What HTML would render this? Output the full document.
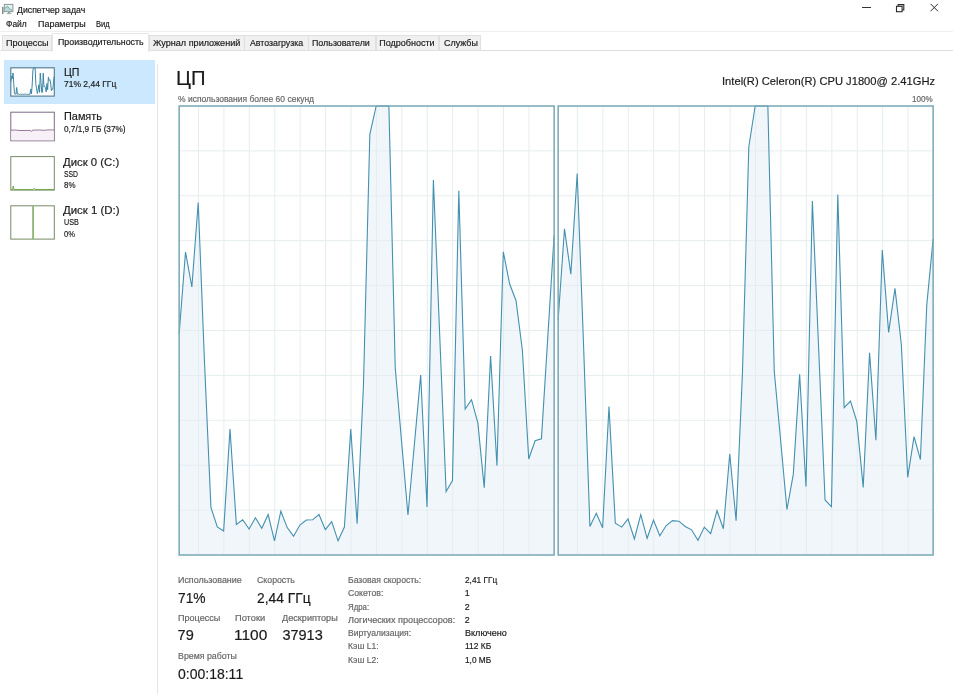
<!DOCTYPE html>
<html><head><meta charset="utf-8">
<style>
html,body{margin:0;padding:0;background:#fff;}
body{width:953px;height:700px;position:relative;overflow:hidden;filter:blur(0.3px);font-family:"Liberation Sans",sans-serif;color:#1a1a1a;}
.t{position:absolute;white-space:nowrap;line-height:1;transform-origin:0 0;-webkit-text-stroke:0.18px currentColor;}
.g{color:#656565;}
.tb{position:absolute;top:35px;height:16px;background:#f0f0f0;border:1px solid #e0e0e0;box-sizing:border-box;}
.box{position:absolute;box-sizing:border-box;}
svg{position:absolute;left:0;top:0;}
</style></head><body>

<!-- title bar -->
<svg width="16" height="16" style="left:0;top:2px" viewBox="0 0 16 16">
  <rect x="4.3" y="2.4" width="8.6" height="7.2" fill="#dff3f1" stroke="#8c9696" stroke-width="1"/>
  <path d="M4.8 6.4L7.4 4.3L10.2 7.4L12.4 8.2V9.1H4.8Z" fill="#b9dcd8"/>
  <polyline points="4.8,6.4 7.4,4.3 10.2,7.4 12.4,8.2" fill="none" stroke="#6f9c9c" stroke-width="0.9"/>
  <rect x="2" y="5" width="1.6" height="7" fill="#8a8f8f"/>
  <rect x="8" y="9.6" width="2.2" height="2" fill="#8fa8a8"/>
  <rect x="6.5" y="11.2" width="5" height="0.9" fill="#9aa"/>
</svg>

<!-- window controls -->
<div class="box" style="left:862px;top:7px;width:9px;height:1px;background:#333"></div>
<svg width="12" height="12" style="left:895px;top:3px" viewBox="0 0 12 12">
  <rect x="1.5" y="3.3" width="5.6" height="5.4" fill="none" stroke="#2a2a2a" stroke-width="1.1"/>
  <path d="M3.2 3.3V1.6H8.8V7H7.1" fill="none" stroke="#2a2a2a" stroke-width="1.1"/>
</svg>
<svg width="12" height="12" style="left:929px;top:2px" viewBox="0 0 12 12">
  <path d="M1.6 1.9L8.9 9.2M8.9 1.9L1.6 9.2" stroke="#2a2a2a" stroke-width="1" fill="none"/>
</svg>

<!-- menu -->

<div class="box" style="left:0;top:31px;width:953px;height:1px;background:#efefef"></div>

<!-- tabs -->
<div class="box" style="left:0;top:50px;width:953px;height:1px;background:#dedede"></div>
<div class="tb" style="left:1.5px;width:50.5px;"></div>
<div class="tb" style="left:149px;width:95.5px;"></div>
<div class="tb" style="left:244px;width:64.5px;"></div>
<div class="tb" style="left:308px;width:68px;"></div>
<div class="tb" style="left:375.5px;width:63.5px;"></div>
<div class="tb" style="left:439px;width:42px;"></div>
<div class="box" style="left:52px;top:33px;width:97px;height:19px;background:#fff;border:1px solid #e6e6e6;border-bottom:none;"></div>

<!-- sidebar -->
<div class="box" style="left:157px;top:64px;width:1px;height:630px;background:#e3e3e3"></div>
<div class="box" style="left:3.5px;top:60px;width:151px;height:43.5px;background:#cce8ff"></div>

<svg width="60" height="250" style="left:0;top:0" viewBox="0 0 60 250">
  <rect x="10.8" y="67.8" width="43.5" height="28.3" fill="#fff" stroke="#52798a" stroke-width="1.1"/>
  <polyline points="10.80,81.73 11.54,76.27 12.27,78.80 13.01,72.97 13.75,83.46 14.49,93.70 15.22,93.90 15.96,94.49 16.70,87.45 17.44,94.13 18.17,94.11 18.91,94.15 19.65,94.42 20.38,93.99 21.12,94.30 21.86,94.55 22.60,94.11 23.33,94.31 24.07,94.42 24.81,94.09 25.55,94.10 26.28,94.20 27.02,94.36 27.76,94.42 28.49,94.38 29.23,94.26 29.97,94.39 30.71,88.95 31.44,94.03 32.18,85.01 32.92,69.98 33.66,67.80 34.39,67.80 35.13,67.80 35.87,84.41 36.61,88.91 37.34,93.41 38.08,90.09 38.82,84.74 39.55,92.43 40.29,73.13 41.03,82.74 41.77,92.37 42.50,92.23 43.24,73.26 43.98,86.86 44.72,86.35 45.45,87.75 46.19,91.85 46.93,83.46 47.66,89.67 48.40,76.94 49.14,80.54 49.88,79.68 50.61,83.01 51.35,90.63 52.09,88.77 52.83,89.43 53.56,81.35 54.30,76.06" fill="none" stroke="#3d86a6" stroke-width="1"/>
  <rect x="10.8" y="112.2" width="43.5" height="28.6" fill="#fff" stroke="#7f6a88" stroke-width="1"/>
  <rect x="11.3" y="130.5" width="42.5" height="9.8" fill="#f7f0f6"/>
  <polyline points="11,130.2 15,130 20,130.5 26,130.5 30,130.4 31.5,131.4 33,130.1 40,130 44,130.3 48,129.9 54,130" fill="none" stroke="#8b6b93" stroke-width="0.9"/>
  <rect x="10.8" y="156.6" width="43.5" height="33.5" fill="#fff" stroke="#768b66" stroke-width="1"/>
  <polyline points="11,189.5 12.5,189.5 13.2,186 13.9,189.5 33,189.5 34.2,188.3 35.2,189.5 54,189.5" fill="none" stroke="#6aa63f" stroke-width="0.9"/>
  <rect x="10.8" y="205.8" width="43.5" height="33.3" fill="#fff" stroke="#768b66" stroke-width="1"/>
  <rect x="32.4" y="206.2" width="1.3" height="32.6" fill="#5f9a3a"/>
</svg>


<!-- main header -->

<svg width="953" height="700" viewBox="0 0 953 700">
<polygon points="179.15,555.0 179.15,334.00 185.51,252.00 191.86,287.00 198.22,202.50 204.57,364.00 210.93,507.30 217.29,527.00 223.64,531.00 230.00,429.00 236.35,524.40 242.71,519.80 249.07,529.00 255.42,517.80 261.78,528.30 268.13,514.50 274.49,540.80 280.84,511.20 287.20,527.60 293.56,536.20 299.91,525.00 306.27,520.00 312.62,519.80 318.98,514.50 325.34,529.60 331.69,521.70 338.05,540.80 344.40,527.00 350.76,429.10 357.12,523.70 363.47,385.00 369.83,134.30 376.18,106.00 382.54,106.00 388.90,106.00 395.25,368.00 401.61,442.00 407.96,515.00 414.32,445.00 420.68,375.00 427.03,507.00 433.39,180.00 439.74,336.00 446.10,491.50 452.46,480.50 458.81,190.80 465.17,409.00 471.52,399.70 477.88,423.20 484.23,487.60 490.59,356.00 496.95,465.60 503.30,251.80 509.66,284.00 516.01,300.50 522.37,350.20 528.73,459.00 535.08,440.70 541.44,438.80 547.79,337.00 554.15,235.00 554.15,555.0" fill="#f1f6fa"/>
<path d="M179.2 150.90H554.1 M179.2 195.80H554.1 M179.2 240.70H554.1 M179.2 285.60H554.1 M179.2 330.50H554.1 M179.2 375.40H554.1 M179.2 420.30H554.1 M179.2 465.20H554.1 M179.2 510.10H554.1 M198.50 106.0V555.0 M223.92 106.0V555.0 M249.34 106.0V555.0 M274.76 106.0V555.0 M300.18 106.0V555.0 M325.60 106.0V555.0 M351.02 106.0V555.0 M376.44 106.0V555.0 M401.86 106.0V555.0 M427.28 106.0V555.0 M452.70 106.0V555.0 M478.12 106.0V555.0 M503.54 106.0V555.0 M528.96 106.0V555.0" stroke="#e6edef" stroke-width="1" fill="none"/>
<polyline points="179.15,334.00 185.51,252.00 191.86,287.00 198.22,202.50 204.57,364.00 210.93,507.30 217.29,527.00 223.64,531.00 230.00,429.00 236.35,524.40 242.71,519.80 249.07,529.00 255.42,517.80 261.78,528.30 268.13,514.50 274.49,540.80 280.84,511.20 287.20,527.60 293.56,536.20 299.91,525.00 306.27,520.00 312.62,519.80 318.98,514.50 325.34,529.60 331.69,521.70 338.05,540.80 344.40,527.00 350.76,429.10 357.12,523.70 363.47,385.00 369.83,134.30 376.18,106.00 382.54,106.00 388.90,106.00 395.25,368.00 401.61,442.00 407.96,515.00 414.32,445.00 420.68,375.00 427.03,507.00 433.39,180.00 439.74,336.00 446.10,491.50 452.46,480.50 458.81,190.80 465.17,409.00 471.52,399.70 477.88,423.20 484.23,487.60 490.59,356.00 496.95,465.60 503.30,251.80 509.66,284.00 516.01,300.50 522.37,350.20 528.73,459.00 535.08,440.70 541.44,438.80 547.79,337.00 554.15,235.00" fill="none" stroke="#4390b0" stroke-width="1.1" stroke-linejoin="miter"/>
<rect x="179.15" y="106.0" width="375.00" height="449.0" fill="none" stroke="#78a8b4" stroke-width="1.5"/>
<polygon points="558.13,555.0 558.13,320.00 564.49,228.80 570.84,274.10 577.20,173.60 583.55,345.00 589.91,526.50 596.26,513.30 602.62,527.80 608.98,406.60 615.33,523.20 621.69,527.10 628.04,519.00 634.40,539.00 640.75,514.70 647.11,538.30 653.47,520.00 659.82,535.70 666.18,525.50 672.53,520.60 678.89,521.20 685.25,526.50 691.60,529.80 697.96,540.30 704.31,527.10 710.67,533.70 717.02,510.70 723.38,528.80 729.74,454.00 736.09,520.70 742.45,373.00 748.80,147.00 755.16,106.00 761.51,106.00 767.87,106.00 774.23,371.00 780.58,440.00 786.94,509.50 793.29,474.40 799.65,374.40 806.00,486.60 812.36,201.00 818.72,350.00 825.07,500.00 831.43,506.60 837.78,194.40 844.14,407.70 850.50,401.00 856.85,421.70 863.21,487.40 869.56,352.90 875.92,440.30 882.27,250.10 888.63,332.40 894.99,288.40 901.34,344.50 907.70,477.30 914.05,436.70 920.41,459.60 926.76,305.00 933.12,239.00 933.12,555.0" fill="#f1f6fa"/>
<path d="M558.1 150.90H933.1 M558.1 195.80H933.1 M558.1 240.70H933.1 M558.1 285.60H933.1 M558.1 330.50H933.1 M558.1 375.40H933.1 M558.1 420.30H933.1 M558.1 465.20H933.1 M558.1 510.10H933.1 M577.40 106.0V555.0 M602.84 106.0V555.0 M628.28 106.0V555.0 M653.72 106.0V555.0 M679.16 106.0V555.0 M704.60 106.0V555.0 M730.04 106.0V555.0 M755.48 106.0V555.0 M780.92 106.0V555.0 M806.36 106.0V555.0 M831.80 106.0V555.0 M857.24 106.0V555.0 M882.68 106.0V555.0 M908.12 106.0V555.0" stroke="#e6edef" stroke-width="1" fill="none"/>
<polyline points="558.13,320.00 564.49,228.80 570.84,274.10 577.20,173.60 583.55,345.00 589.91,526.50 596.26,513.30 602.62,527.80 608.98,406.60 615.33,523.20 621.69,527.10 628.04,519.00 634.40,539.00 640.75,514.70 647.11,538.30 653.47,520.00 659.82,535.70 666.18,525.50 672.53,520.60 678.89,521.20 685.25,526.50 691.60,529.80 697.96,540.30 704.31,527.10 710.67,533.70 717.02,510.70 723.38,528.80 729.74,454.00 736.09,520.70 742.45,373.00 748.80,147.00 755.16,106.00 761.51,106.00 767.87,106.00 774.23,371.00 780.58,440.00 786.94,509.50 793.29,474.40 799.65,374.40 806.00,486.60 812.36,201.00 818.72,350.00 825.07,500.00 831.43,506.60 837.78,194.40 844.14,407.70 850.50,401.00 856.85,421.70 863.21,487.40 869.56,352.90 875.92,440.30 882.27,250.10 888.63,332.40 894.99,288.40 901.34,344.50 907.70,477.30 914.05,436.70 920.41,459.60 926.76,305.00 933.12,239.00" fill="none" stroke="#4390b0" stroke-width="1.1" stroke-linejoin="miter"/>
<rect x="558.13" y="106.0" width="374.99" height="449.0" fill="none" stroke="#78a8b4" stroke-width="1.5"/>
</svg>

<!-- stats -->


<div class="t" style="left:17.00px;top:5.58px;font-size:9.0px;transform:scaleX(0.969);">Диспетчер задач</div>
<div class="t" style="left:5.90px;top:20.38px;font-size:9.0px;transform:scaleX(0.937);">Файл</div>
<div class="t" style="left:37.80px;top:20.38px;font-size:9.0px;transform:scaleX(0.994);">Параметры</div>
<div class="t" style="left:95.70px;top:20.38px;font-size:9.0px;transform:scaleX(0.840);">Вид</div>
<div class="t" style="left:5.90px;top:39.28px;font-size:9.0px;transform:scaleX(1.011);">Процессы</div>
<div class="t" style="left:57.80px;top:37.88px;font-size:9.0px;transform:scaleX(0.980);">Производительность</div>
<div class="t" style="left:152.80px;top:39.18px;font-size:9.0px;transform:scaleX(1.009);">Журнал приложений</div>
<div class="t" style="left:249.60px;top:39.18px;font-size:9.0px;transform:scaleX(0.974);">Автозагрузка</div>
<div class="t" style="left:312.00px;top:39.18px;font-size:9.0px;transform:scaleX(0.984);">Пользователи</div>
<div class="t" style="left:379.30px;top:39.18px;font-size:9.0px;">Подробности</div>
<div class="t" style="left:444.00px;top:39.18px;font-size:9.0px;transform:scaleX(0.993);">Службы</div>
<div class="t" style="left:63.50px;top:66.69px;font-size:11.0px;transform:scaleX(0.961);">ЦП</div>
<div class="t" style="left:63.70px;top:80.44px;font-size:8.7px;transform:scaleX(0.977);">71% 2,44 ГГц</div>
<div class="t" style="left:63.50px;top:111.49px;font-size:11.0px;transform:scaleX(0.990);">Память</div>
<div class="t" style="left:63.50px;top:125.14px;font-size:8.7px;transform:scaleX(0.948);">0,7/1,9 ГБ (37%)</div>
<div class="t" style="left:62.60px;top:156.59px;font-size:11.0px;transform:scaleX(1.032);">Диск 0 (C:)</div>
<div class="t" style="left:63.90px;top:169.91px;font-size:9.2px;transform:scaleX(0.743);">SSD</div>
<div class="t" style="left:63.90px;top:181.31px;font-size:9.2px;transform:scaleX(0.862);">8%</div>
<div class="t" style="left:62.60px;top:205.49px;font-size:11.0px;transform:scaleX(1.039);">Диск 1 (D:)</div>
<div class="t" style="left:63.90px;top:218.31px;font-size:9.2px;transform:scaleX(0.783);">USB</div>
<div class="t" style="left:63.90px;top:229.71px;font-size:9.2px;transform:scaleX(0.831);">0%</div>
<div class="t" style="left:176.41px;top:67.95px;font-size:20.5px;transform:scaleX(0.987);">ЦП</div>
<div class="t" style="left:721.63px;top:75.97px;font-size:11.5px;transform:scaleX(0.971);">Intel(R) Celeron(R) CPU J1800@ 2.41GHz</div>
<div class="t g" style="left:178.30px;top:95.02px;font-size:8.6px;transform:scaleX(0.988);">% использования более 60 секунд</div>
<div class="t g" style="left:912.00px;top:94.82px;font-size:8.6px;transform:scaleX(0.940);">100%</div>
<div class="t g" style="left:177.60px;top:575.87px;font-size:8.9px;transform:scaleX(1.005);">Использование</div>
<div class="t g" style="left:256.50px;top:575.87px;font-size:8.9px;transform:scaleX(0.987);">Скорость</div>
<div class="t" style="left:177.60px;top:590.63px;font-size:14.5px;transform:scaleX(0.951);">71%</div>
<div class="t" style="left:256.50px;top:590.63px;font-size:14.5px;transform:scaleX(0.953);">2,44 ГГц</div>
<div class="t g" style="left:177.60px;top:614.27px;font-size:8.9px;transform:scaleX(1.021);">Процессы</div>
<div class="t g" style="left:234.60px;top:614.27px;font-size:8.9px;transform:scaleX(1.045);">Потоки</div>
<div class="t g" style="left:282.40px;top:614.27px;font-size:8.9px;transform:scaleX(1.028);">Дескрипторы</div>
<div class="t" style="left:177.60px;top:628.43px;font-size:14.5px;">79</div>
<div class="t" style="left:234.13px;top:628.43px;font-size:14.5px;transform:scaleX(1.066);">1100</div>
<div class="t" style="left:282.40px;top:628.43px;font-size:14.5px;">37913</div>
<div class="t g" style="left:177.60px;top:651.97px;font-size:8.9px;transform:scaleX(0.993);">Время работы</div>
<div class="t" style="left:177.60px;top:666.53px;font-size:14.5px;transform:scaleX(0.966);">0:00:18:11</div>
<div class="t g" style="left:347.60px;top:576.25px;font-size:8.8px;transform:scaleX(0.981);">Базовая скорость:</div>
<div class="t g" style="left:347.60px;top:589.45px;font-size:8.8px;transform:scaleX(0.989);">Сокетов:</div>
<div class="t g" style="left:347.60px;top:602.75px;font-size:8.8px;transform:scaleX(0.890);">Ядра:</div>
<div class="t g" style="left:347.60px;top:615.95px;font-size:8.8px;transform:scaleX(1.037);">Логических процессоров:</div>
<div class="t g" style="left:347.60px;top:629.15px;font-size:8.8px;transform:scaleX(0.972);">Виртуализация:</div>
<div class="t g" style="left:347.60px;top:642.35px;font-size:8.8px;transform:scaleX(0.977);">Кэш L1:</div>
<div class="t g" style="left:347.60px;top:655.65px;font-size:8.8px;transform:scaleX(0.977);">Кэш L2:</div>
<div class="t" style="left:464.70px;top:576.25px;font-size:8.8px;transform:scaleX(0.942);">2,41 ГГц</div>
<div class="t" style="left:464.70px;top:589.45px;font-size:8.8px;">1</div>
<div class="t" style="left:464.70px;top:602.75px;font-size:8.8px;">2</div>
<div class="t" style="left:464.70px;top:615.95px;font-size:8.8px;">2</div>
<div class="t" style="left:464.70px;top:629.15px;font-size:8.8px;transform:scaleX(1.030);">Включено</div>
<div class="t" style="left:464.70px;top:642.35px;font-size:8.8px;transform:scaleX(0.957);">112 КБ</div>
<div class="t" style="left:464.70px;top:655.65px;font-size:8.8px;transform:scaleX(0.943);">1,0 МБ</div>
</body></html>
